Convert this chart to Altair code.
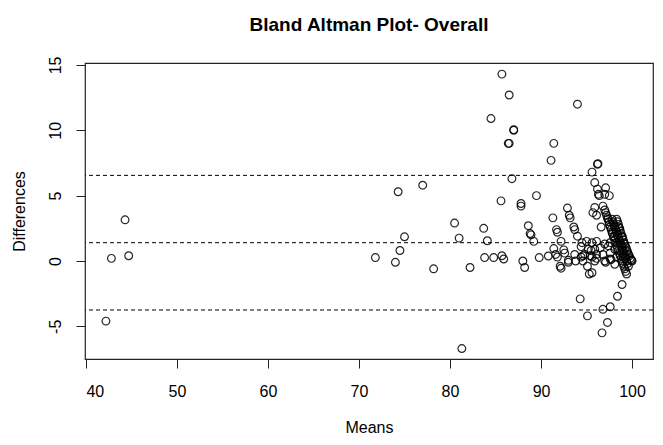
import altair as alt
import pandas as pd

# Means (x) and Differences (y)
means = [
    42.2, 42.8, 44.3, 44.7,
    71.8, 74.0, 74.3, 74.5, 75.0, 77.0, 78.2,
    80.5, 81.0, 81.3, 82.2, 83.7, 83.8, 84.1, 84.5, 84.8, 85.6, 85.7, 85.7, 85.9,
    86.4, 86.5, 86.5, 86.8, 87.0, 87.0, 87.8, 87.8, 88.0, 88.2, 88.6, 88.8, 88.9,
    89.2, 89.5, 89.8,
    90.8, 91.1, 91.3, 91.4, 91.4, 91.6, 91.7, 91.8, 91.8, 92.1, 92.2, 92.2, 92.5,
    92.6, 92.9, 93.0, 93.0, 93.1, 93.2, 93.6, 93.7, 93.7, 93.8, 94.0, 94.0, 94.3,
    94.4, 94.4, 94.5, 94.6, 94.6, 94.8, 95.0, 95.1, 95.1, 95.2, 95.3, 95.4, 95.5,
    95.6, 95.6, 95.6, 95.6, 95.7, 95.9, 95.9, 95.9, 95.9, 96.1, 96.1, 96.1, 96.1,
    96.2, 96.25, 96.2, 96.3, 96.4, 96.5, 96.6, 96.7, 96.8, 96.8, 96.8, 97.0, 97.0,
    97.0, 97.1, 97.1, 97.3, 97.4, 97.5, 97.6, 97.6, 97.6, 97.6, 97.7, 98.1, 98.1,
    98.3, 98.4, 98.9, 99.0, 99.4,
    # band A
    97.0, 97.1, 97.2, 97.3, 97.35, 97.45, 97.5, 97.6, 97.7, 97.8, 97.85, 97.95,
    98.0, 98.1, 98.2, 98.3, 98.4, 98.5, 98.6, 98.7, 98.8, 98.9, 99.0, 99.1, 99.2, 99.3,
    # band B
    98.3, 98.4, 98.5, 98.55, 98.65, 98.7, 98.8, 98.9, 98.95, 99.05, 99.1, 99.2,
    99.3, 99.35, 99.45, 99.5, 99.6, 99.7, 99.8, 99.9, 100.0, 99.95,
    # band C
    97.8, 97.9, 98.0, 98.1, 98.2, 98.3, 98.4, 98.5, 98.6, 98.7, 98.8, 98.9, 99.0,
    99.1, 99.2, 99.3, 99.4, 99.5, 99.6,
]
diffs = [
    -4.6, 0.2, 3.15, 0.4,
    0.26, -0.1, 5.3, 0.8, 1.85, 5.8, -0.6,
    2.9, 1.75, -6.7, -0.5, 2.5, 0.26, 1.55, 10.9, 0.26, 4.6, 14.3, 0.4, 0.15,
    9.0, 9.0, 12.7, 6.3, 10.0, 10.05, 4.4, 4.2, 0.0, -0.5, 2.7, 2.1, 2.0,
    1.5, 5.0, 0.26,
    0.38, 7.7, 3.3, 9.0, 0.95, 0.5, 2.4, 2.2, 0.3, -0.4, -0.55, 1.5, 0.85,
    0.6, 4.05, 0.05, -0.1, 3.5, 3.3, 2.6, 2.4, 0.5, 0.0, 12.0, 1.9, -2.9,
    1.1, 0.3, 1.4, 0.4, 0.0, 0.5, 1.5, -0.4, -4.2, 0.9, -1.0, 0.4, 0.8,
    1.4, 0.3, -0.9, 6.8, 3.7, 6.0, 4.1, 0.9, 0.0, 3.5, 1.5, 0.5, 0.2,
    7.4, 7.45, 5.5, 5.1, 5.0, 1.0, 2.6, -5.5, 4.2, 0.5, -3.7, 5.1, 1.3,
    0.0, 5.6, -0.1, -4.7, 1.15, 5.0, 1.4, 0.6, 0.15, -3.5, 0.1, 0.9, -0.25,
    0.3, -2.7, -1.8, 0.3, -1.0,
    # band A
    3.9, 3.7, 3.5, 3.3, 3.2, 3.0, 2.8, 2.6, 2.4, 2.2, 2.1, 1.9,
    1.8, 1.6, 1.4, 1.2, 1.0, 0.8, 0.6, 0.4, 0.2, 0.0, -0.2, -0.4, -0.6, -0.8,
    # band B
    3.2, 3.0, 2.8, 2.6, 2.5, 2.3, 2.1, 1.9, 1.8, 1.6, 1.4, 1.3,
    1.1, 1.0, 0.8, 0.7, 0.5, 0.4, 0.2, 0.1, 0.0, 0.05,
    # band C
    3.2, 3.0, 2.8, 2.6, 2.4, 2.2, 2.0, 1.8, 1.6, 1.4, 1.2, 1.0, 0.8,
    0.6, 0.4, 0.2, 0.0, -0.2, -0.4,
]

# mean difference and limits of agreement (dashed lines)
line_values = [6.55, 1.4, -3.75]

x_ticks = [40, 50, 60, 70, 80, 90, 100]
y_ticks = [-5, 0, 5, 10, 15]

pts = pd.DataFrame({"Means": means, "Differences": diffs})
lines = pd.DataFrame({"Differences": line_values})

FONT = "Liberation Sans"

xscale = alt.Scale(domain=[39.9, 102.3], nice=False, zero=False)
yscale = alt.Scale(domain=[-7.5, 15.15], nice=False, zero=False)

points = alt.Chart(pts).mark_point(
    shape="circle", filled=False, color="black", size=60, strokeWidth=1.2, opacity=0.85
).encode(
    x=alt.X("Means:Q", scale=xscale,
            axis=alt.Axis(values=x_ticks, title="Means", labelPadding=15, titlePadding=20)),
    y=alt.Y("Differences:Q", scale=yscale,
            axis=alt.Axis(values=y_ticks, title="Differences", labelAngle=270,
                          labelAlign="center", labelBaseline="bottom",
                          labelExpr="datum.value < 0 ? '-' + abs(datum.value) : '' + datum.value",
                          labelPadding=13, titlePadding=20)),
)

rules = alt.Chart(lines).mark_rule(
    color="black", strokeDash=[4, 3], strokeWidth=1
).encode(y=alt.Y("Differences:Q", scale=yscale))

chart = alt.layer(rules, points).properties(
    width=568,
    height=296,
    background="white",
    padding={"left": 77, "top": 55, "right": 1, "bottom": 78},
    autosize=alt.AutoSizeParams(type="none"),
    title=alt.TitleParams(
        "Bland Altman Plot- Overall", font=FONT, fontSize=19, fontWeight="bold",
        color="black", anchor="middle", baseline="alphabetic", offset=6,
    ),
).configure_view(
    stroke="#222", strokeWidth=1.2
).configure_axis(
    domain=False, grid=False, ticks=True, tickColor="#222", tickSize=9, tickWidth=1,
    labelFont=FONT, labelFontSize=16, labelColor="black",
    titleFont=FONT, titleFontSize=16, titleFontWeight="normal", titleColor="black",
)

chart.save("out.html", embed_options={"renderer": "svg", "actions": False})
